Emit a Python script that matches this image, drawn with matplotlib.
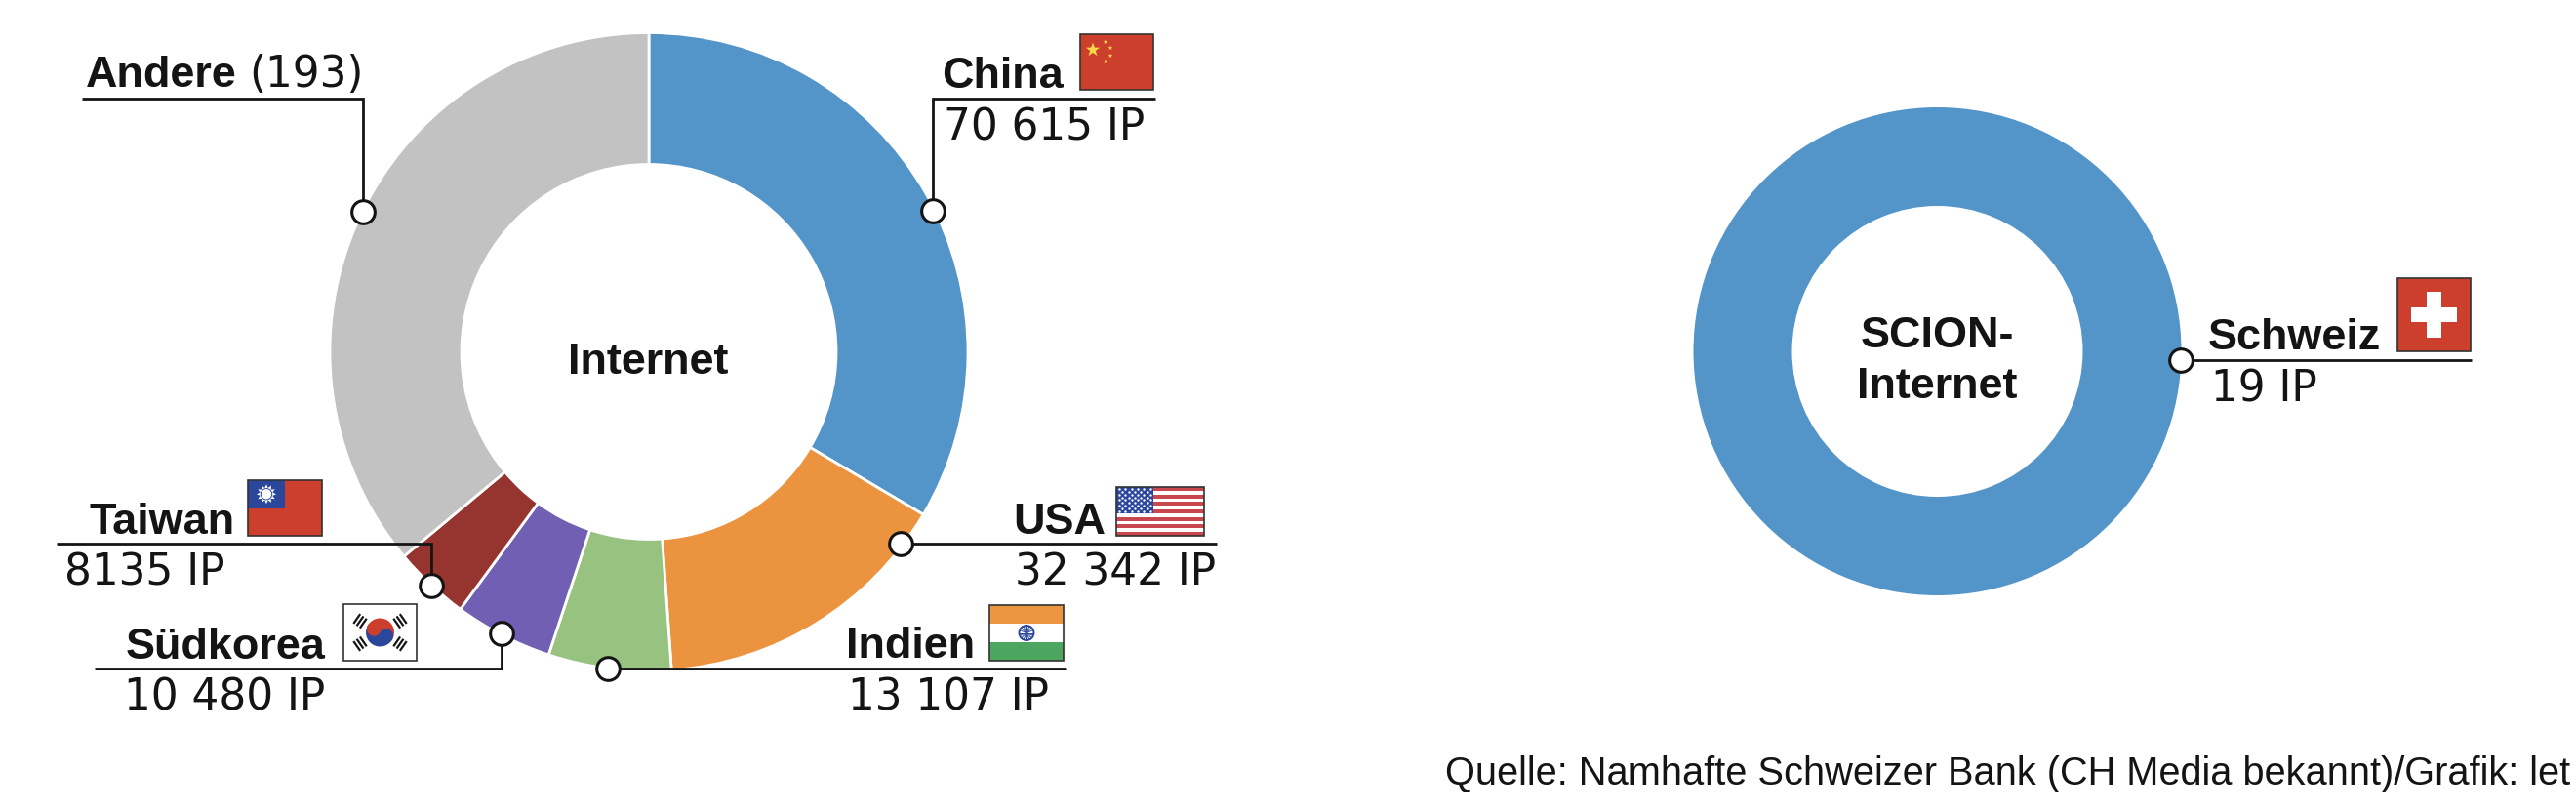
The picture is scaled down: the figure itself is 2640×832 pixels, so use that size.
import numpy as np
import matplotlib
matplotlib.use('Agg')
import matplotlib.pyplot as plt
from matplotlib.patches import Rectangle, Circle, Wedge, Polygon

# Werte
countries = ['China', 'USA', 'Indien', 'Südkorea', 'Taiwan', 'Andere']
ip_values = [70615, 32342, 13107, 10480, 8135, 76000]  # Andere geschaetzt (Anteil im Bild)
colors = ['#5495C9', '#EC9340', '#97C280', '#705FB2', '#96352F', '#C2C2C2']
scion_countries = ['Schweiz']
scion_values = [19]
value_labels = ['70 615 IP', '32 342 IP', '13 107 IP', '10 480 IP', '8135 IP', '19 IP']
source = 'Quelle: Namhafte Schweizer Bank (CH Media bekannt)/Grafik: let'

INK = '#141414'
RED = '#CC3F2C'
BLUE = '#2B479C'
YELLOW = '#F6D84A'

BOLD = {'family': 'Liberation Sans', 'weight': 'bold', 'size': 32.4, 'color': INK}
NUM = {'family': 'DejaVu Sans', 'weight': 'normal', 'size': 31.5, 'color': INK}

fig = plt.figure(figsize=(26.4, 8.32), dpi=100)
ax = fig.add_axes([0, 0, 1, 1])


def star(ax, x, y, r, rot=0, color=YELLOW, z=6):
    pts = []
    for i in range(10):
        rr = r if i % 2 == 0 else r * 0.4
        a = np.radians(-90 + rot + i * 36)
        pts.append((x + rr * np.cos(a), y + rr * np.sin(a)))
    ax.add_patch(Polygon(pts, closed=True, fc=color, ec='none', zorder=z))


def flag_frame(ax, box):
    x0, y0, x1, y1 = box
    ax.add_patch(Rectangle((x0, y0), x1 - x0, y1 - y0, fc='none', ec='#333333', lw=1.2, zorder=9))


def flag_china(ax, box):
    x0, y0, x1, y1 = box
    ax.add_patch(Rectangle((x0, y0), x1 - x0, y1 - y0, fc=RED, ec='none', zorder=5))
    star(ax, x0 + 13, y0 + 16, 7.5)
    for dx, dy in [(26, 8), (31, 14), (31, 22), (26, 28)]:
        star(ax, x0 + dx, y0 + dy, 2.5)
    flag_frame(ax, box)


def flag_usa(ax, box):
    x0, y0, x1, y1 = box
    h = (y1 - y0) / 13
    ax.add_patch(Rectangle((x0, y0), x1 - x0, y1 - y0, fc='white', ec='none', zorder=5))
    for i in range(0, 13, 2):
        ax.add_patch(Rectangle((x0, y0 + i * h), x1 - x0, h, fc='#C9474F', ec='none', zorder=5))
    cw, ch = (x1 - x0) * 0.42, h * 7
    ax.add_patch(Rectangle((x0, y0), cw, ch, fc=BLUE, ec='none', zorder=6))
    sx, sy = [], []
    for r in range(9):
        n = 6 if r % 2 == 0 else 5
        off = 0.5 if r % 2 == 0 else 1.0
        for c in range(n):
            sx.append(x0 + (c + off) * cw / 6)
            sy.append(y0 + (r + 0.7) * ch / 9.4)
    ax.scatter(sx, sy, s=3, c='white', linewidths=0, zorder=7)
    flag_frame(ax, box)


def flag_india(ax, box):
    x0, y0, x1, y1 = box
    h = (y1 - y0) / 3
    for i, c in enumerate(['#EC9642', 'white', '#4CA660']):
        ax.add_patch(Rectangle((x0, y0 + i * h), x1 - x0, h, fc=c, ec='none', zorder=5))
    xc, yc = (x0 + x1) / 2, (y0 + y1) / 2
    ax.add_patch(Circle((xc, yc), 7.5, fc='white', ec=BLUE, lw=1.4, zorder=6))
    for a in np.arange(0, 180, 22.5):
        dx, dy = 7 * np.cos(np.radians(a)), 7 * np.sin(np.radians(a))
        ax.plot([xc - dx, xc + dx], [yc - dy, yc + dy], color=BLUE, lw=0.7, zorder=7)
    flag_frame(ax, box)


def flag_korea(ax, box):
    x0, y0, x1, y1 = box
    ax.add_patch(Rectangle((x0, y0), x1 - x0, y1 - y0, fc='white', ec='none', zorder=5))
    xc, yc = (x0 + x1) / 2, (y0 + y1) / 2
    r = 14.5
    rot = 30
    ax.add_patch(Wedge((xc, yc), r, 180 + rot, 360 + rot, fc=RED, ec='none', zorder=6))
    ax.add_patch(Wedge((xc, yc), r, rot, 180 + rot, fc=BLUE, ec='none', zorder=6))
    c, s = np.cos(np.radians(rot)), np.sin(np.radians(rot))
    ax.add_patch(Circle((xc - r / 2 * c, yc - r / 2 * s), r / 2, fc=RED, ec='none', zorder=7))
    ax.add_patch(Circle((xc + r / 2 * c, yc + r / 2 * s), r / 2, fc=BLUE, ec='none', zorder=7))
    # Trigramme
    for ang in [35, 145, 215, 325]:
        a = np.radians(ang)
        cx, cy = xc + 25 * np.cos(a), yc + 18.5 * np.sin(a) * 1.1
        tx, ty = -np.sin(a), np.cos(a)
        for k in (-4, 0, 4):
            px, py = cx + k * np.cos(a), cy + k * np.sin(a)
            ax.plot([px - 6 * tx, px + 6 * tx], [py - 6 * ty, py + 6 * ty], color=INK, lw=1.6,
                    solid_capstyle='butt', zorder=7)
    flag_frame(ax, box)


def flag_taiwan(ax, box):
    x0, y0, x1, y1 = box
    ax.add_patch(Rectangle((x0, y0), x1 - x0, y1 - y0, fc=RED, ec='none', zorder=5))
    cw, ch = (x1 - x0) * 0.5, (y1 - y0) * 0.5
    ax.add_patch(Rectangle((x0, y0), cw, ch, fc=BLUE, ec='none', zorder=6))
    xc, yc = x0 + cw / 2, y0 + ch / 2
    star_pts = []
    for i in range(24):
        rr = 10 if i % 2 == 0 else 6.5
        a = np.radians(i * 15)
        star_pts.append((xc + rr * np.cos(a), yc + rr * np.sin(a)))
    ax.add_patch(Polygon(star_pts, closed=True, fc='white', ec='none', zorder=7))
    ax.add_patch(Circle((xc, yc), 6.2, fc=BLUE, ec='none', zorder=7))
    ax.add_patch(Circle((xc, yc), 5.2, fc='white', ec='none', zorder=8))
    flag_frame(ax, box)


def flag_swiss(ax, box):
    x0, y0, x1, y1 = box
    ax.add_patch(Rectangle((x0, y0), x1 - x0, y1 - y0, fc=RED, ec='none', zorder=5))
    xc, yc = (x0 + x1) / 2, (y0 + y1) / 2
    ax.add_patch(Rectangle((xc - 23.5, yc - 7.5), 47, 15, fc='white', ec='none', zorder=6))
    ax.add_patch(Rectangle((xc - 7.5, yc - 23.5), 15, 47, fc='white', ec='none', zorder=6))
    flag_frame(ax, box)


def callout(ax, name, name_xy, value, value_xy, line, dot, flag=None, flag_box=None):
    xs, ys = zip(*line)
    ax.plot(xs, ys, color=INK, lw=2.0, solid_joinstyle='miter', solid_capstyle='butt', zorder=10)
    ax.scatter([dot[0]], [dot[1]], s=290, c='white', edgecolors=INK, linewidths=2.2, zorder=11)
    ax.text(name_xy[0], name_xy[1], name, ha='left', va='baseline', zorder=12, **BOLD)
    if value:
        ax.text(value_xy[0], value_xy[1], value, ha='left', va='baseline', zorder=12, **NUM)
    if flag:
        flag(ax, flag_box)


# Internet-Donut
ax.pie(ip_values, colors=colors, center=(665, 360.5), radius=327, startangle=-90, counterclock=True,
       frame=True, wedgeprops=dict(width=135, edgecolor='white', linewidth=2))
# SCION-Donut
ax.pie(scion_values, colors=[colors[0]], center=(1985.5, 360), radius=250, startangle=-90, counterclock=True,
       frame=True, wedgeprops=dict(width=101, edgecolor='none'))

ax.set_xlim(0, 2640)
ax.set_ylim(832, 0)
ax.set_aspect('auto')
ax.axis('off')

ax.text(664.5, 383, 'Internet', ha='center', va='baseline', **BOLD)
ax.text(1985.5, 356, 'SCION-', ha='center', va='baseline', **BOLD)
ax.text(1985.5, 408, 'Internet', ha='center', va='baseline', **BOLD)

callout(ax, countries[0], (965, 90), value_labels[0], (967, 144),
        [(1184, 101), (955.5, 101), (955.5, 216)], (955.5, 216), flag_china, (1107, 35, 1182, 92))
callout(ax, countries[1], (1038, 547), value_labels[1], (1040, 600),
        [(923, 557), (1247, 557)], (923, 557), flag_usa, (1144, 499, 1234, 549))
callout(ax, countries[2], (867, 674), value_labels[2], (869, 727),
        [(623, 685), (1092, 685)], (623, 685), flag_india, (1014, 620, 1090, 677))
callout(ax, countries[3], (129, 675), value_labels[3], (127, 727),
        [(97, 685), (514, 685), (514, 649)], (514, 649), flag_korea, (352, 619, 427, 677))
callout(ax, countries[4], (92, 547), value_labels[4], (66, 599),
        [(58, 557), (442, 557), (442, 600)], (442, 600), flag_taiwan, (254, 492, 330, 549))
callout(ax, 'Andere', (88, 89), None, None,
        [(84, 101), (372, 101), (372, 217)], (372, 217))
ax.text(255, 89, '(193)', ha='left', va='baseline', zorder=12, **NUM)
callout(ax, scion_countries[0], (2263, 358), value_labels[5], (2266, 412),
        [(2235, 369), (2533, 369)], (2235, 369), flag_swiss, (2457, 285, 2532, 360))

ax.text(2634, 804, source, ha='right', va='baseline', family='Liberation Sans', size=28.6, color=INK)

fig.savefig('out.png', dpi=100)
